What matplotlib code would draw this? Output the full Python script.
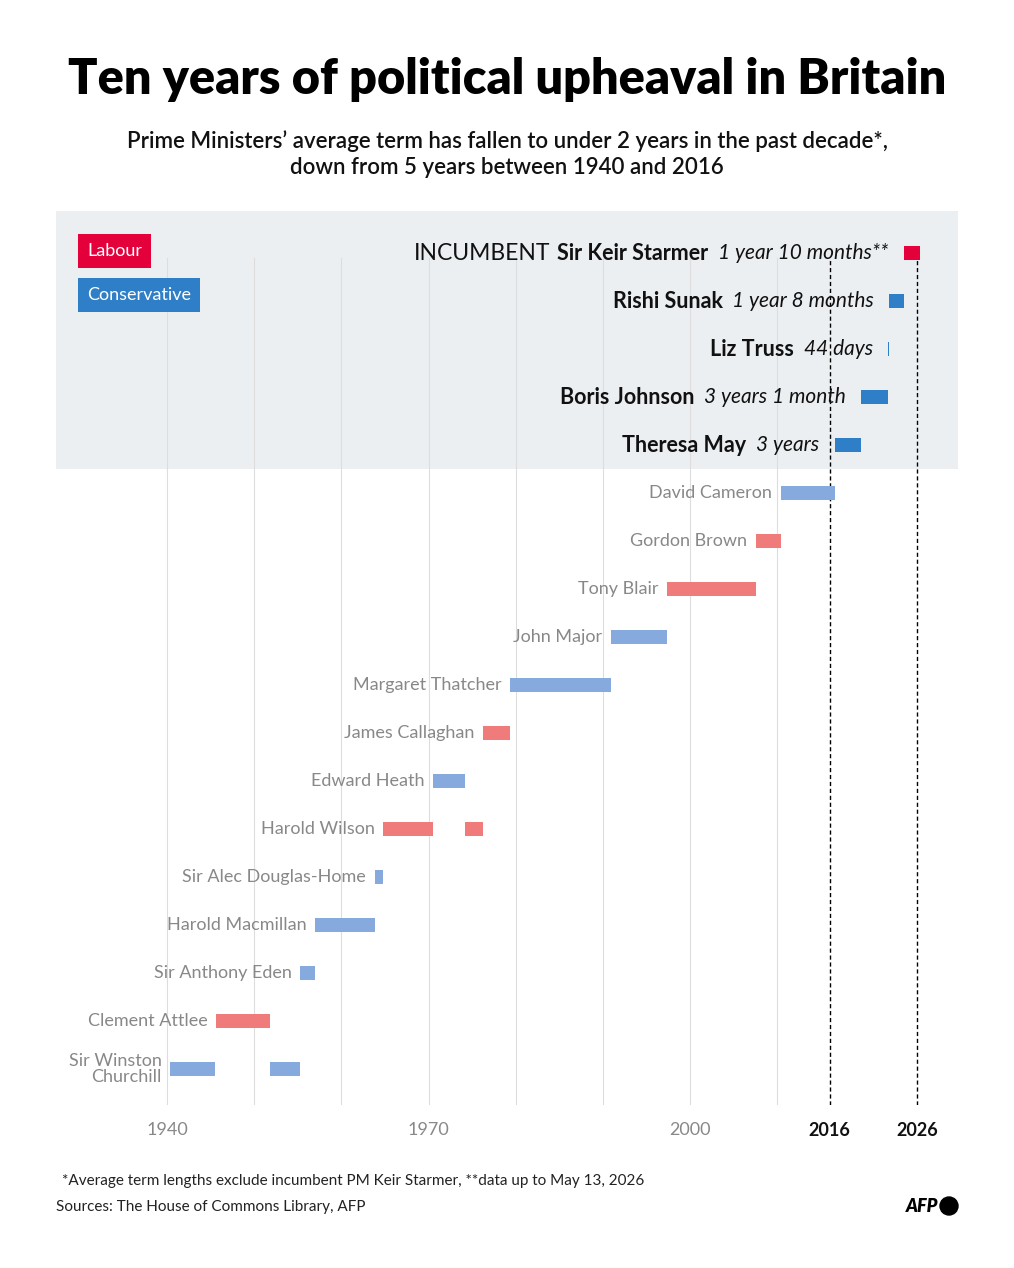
import matplotlib
matplotlib.use("Agg")
import matplotlib.pyplot as plt
from matplotlib.patches import Rectangle, Ellipse

plt.rcParams['font.family'] = ['Lato', 'DejaVu Sans']

names = ["Sir Keir Starmer", "Rishi Sunak", "Liz Truss", "Boris Johnson", "Theresa May",
         "David Cameron", "Gordon Brown", "Tony Blair", "John Major", "Margaret Thatcher",
         "James Callaghan", "Edward Heath", "Harold Wilson", "Sir Alec Douglas-Home",
         "Harold Macmillan", "Sir Anthony Eden", "Clement Attlee", "Sir Winston\nChurchill"]
parties = ["L", "C", "C", "C", "C", "C", "L", "L", "C", "C", "L", "C", "L", "C", "C", "C", "L", "C"]
terms = [[(2024.5, 2026.37)], [(2022.82, 2024.5)], [(2022.7, 2022.82)], [(2019.55, 2022.7)],
         [(2016.55, 2019.55)], [(2010.35, 2016.55)], [(2007.5, 2010.35)], [(1997.35, 2007.5)],
         [(1990.9, 1997.35)], [(1979.35, 1990.9)], [(1976.25, 1979.35)], [(1970.45, 1974.2)],
         [(1964.8, 1970.45), (1974.2, 1976.25)], [(1963.8, 1964.8)], [(1957.0, 1963.8)],
         [(1955.3, 1957.0)], [(1945.6, 1951.8)], [(1940.35, 1945.55), (1951.8, 1955.3)]]
durations = ["1 year 10 months**", "1 year 8 months", "44 days", "3 years 1 month", "3 years"]
xticks = [1940, 1970, 2000, 2016, 2026]

W, H = 1014, 1268
fig = plt.figure(figsize=(W/100, H/100), dpi=100)
ax = fig.add_axes([56/W, 1-1105/H, (958-56)/W, (1105-211)/H])
ax.set_xlim(1927.27, 2030.7)
ax.set_ylim(17.75, -0.875)
for s in ax.spines.values():
    s.set_visible(False)
ax.set_yticks([])
ax.add_patch(Rectangle((1927.27, -0.875), 200, 5.375, color="#eceff2", zorder=0, lw=0))
for yr in range(1940, 2030, 10):
    if yr == 2020:
        continue
    ax.axvline(yr, color="#dddddd", lw=0.8, zorder=1, ymin=0, ymax=(17.75-0.1)/18.625)
for yr in (2016, 2026):
    ax.axvline(yr, color="black", lw=1, ls=(0, (3, 2)), zorder=1, ymax=(17.75-0.1)/18.625)

red, blue = "#e4003a", "#2e7fc8"
lred, lblue = "#ef7b7b", "#86a9de"
bh = 0.3
for i, (nm, p, tl) in enumerate(zip(names, parties, terms)):
    top = i < 5
    c = (red if p == "L" else blue) if top else (lred if p == "L" else lblue)
    for a, b in tl:
        ax.add_patch(Rectangle((a, i - bh/2), b - a, bh, color=c, lw=0, zorder=3))
    start = tl[0][0]
    if not top:
        ax.annotate(nm, (start, i), xytext=(-6, 0), textcoords="offset points",
                    ha="right", va="center", fontsize=13, color="#888888",
                    linespacing=1.0)

fig.canvas.draw()
r = fig.canvas.get_renderer()
for i in range(5):
    start = terms[i][0][0]
    t = ax.annotate(durations[i], (start, i), xytext=(-11, 0), textcoords="offset points",
                    ha="right", va="center", fontsize=15, style="italic", color="#111111")
    w = t.get_window_extent(r).width * 72 / 100
    t2 = ax.annotate(names[i], (start, i), xytext=(-11 - w - 7, 0), textcoords="offset points",
                     ha="right", va="center", fontsize=15.5, weight="bold", color="#111111")
    if i == 0:
        w2 = t2.get_window_extent(r).width * 72 / 100
        ax.annotate("INCUMBENT", (start, i), xytext=(-11 - w - 7 - w2 - 5, 0),
                    textcoords="offset points", ha="right", va="center",
                    fontsize=16.5, color="#111111")

ax.set_xticks(xticks)
ax.set_xticklabels([str(x) for x in xticks])
ax.tick_params(axis="x", length=0, pad=12, labelsize=13, labelcolor="#888888")
for lab in ax.get_xticklabels():
    if lab.get_text() in ("2016", "2026"):
        lab.set_color("#111111"); lab.set_fontweight("bold")

fig.text(87/W, 1-251/H, "Labour", fontsize=13, color="white", va="center",
         bbox=dict(boxstyle="square,pad=0.5", fc=red, ec="none"))
fig.text(87/W, 1-295/H, "Conservative", fontsize=13, color="white", va="center",
         bbox=dict(boxstyle="square,pad=0.5", fc=blue, ec="none"))

fig.text(0.5, 1-80/H, "Ten years of political upheaval in Britain", ha="center", va="center",
         fontsize=35, weight="heavy", color="black")
fig.text(0.5, 1-154/H, "Prime Ministers\u2019 average term has fallen to under 2 years in the past decade*,\ndown from 5 years between 1940 and 2016",
         ha="center", va="center", fontsize=16, weight="semibold", color="#111111", linespacing=1.3)
fig.text(62/W, 1-1181/H, "*Average term lengths exclude incumbent PM Keir Starmer, **data up to May 13, 2026",
         fontsize=11, va="center", color="#222222")
fig.text(56/W, 1-1207/H, "Sources: The House of Commons Library, AFP", fontsize=11, va="center", color="#222222")
fig.text(938/W, 1-1206/H, "AFP", fontsize=13, weight="heavy", ha="right", va="center", style="italic")
fig.patches.append(Ellipse((949/W, 1-1206/H), 18/W, 18/H, transform=fig.transFigure, color="black"))

fig.savefig("out.png", dpi=100, facecolor="white")
